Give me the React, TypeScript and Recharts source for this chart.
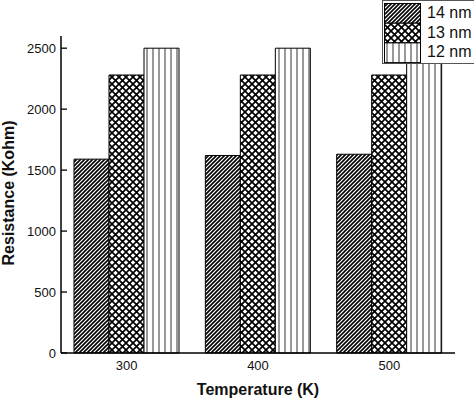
import React from "react";
import { BarChart, Bar, XAxis, YAxis, Legend, Label } from "recharts";

const FONT = "'Liberation Sans', Arial, sans-serif";

const temperatures = ["300", "400", "500"];
const resistance14nm = [1590, 1620, 1630];
const resistance13nm = [2280, 2280, 2280];
const resistance12nm = [2500, 2500, 2500];
const yTicks = [0, 500, 1000, 1500, 2000, 2500];

const SERIES = [
  { key: "r14", name: "14 nm", fill: "url(#hatch14)" },
  { key: "r13", name: "13 nm", fill: "url(#cross13)" },
  { key: "r12", name: "12 nm", fill: "url(#vert12)" },
];

const data = temperatures.map((t, i) => ({
  temp: t,
  r14: resistance14nm[i],
  r13: resistance13nm[i],
  r12: resistance12nm[i],
}));

const YTick = (props: any) => {
  const { x, y, payload } = props;
  return (
    <g>
      <line x1={x + 5} x2={x + 11} y1={y} y2={y} stroke="#000" strokeWidth={1.3} />
      <text x={x} y={y} dy="0.36em" textAnchor="end" fontSize={13} fill="#111" fontFamily={FONT}>
        {payload.value}
      </text>
    </g>
  );
};

const LegendBox = () => (
  <div
    style={{
      position: "relative",
      width: 100,
      height: 64,
      boxSizing: "border-box",
      border: "1px solid #555",
      background: "#fff",
      fontFamily: FONT,
    }}
  >
    <svg width={38} height={62} style={{ position: "absolute", left: 1, top: 2 }}>
      {SERIES.map((s, i) => (
        <rect key={s.key} x={0.5} y={0.5 + i * 19.7} width={36} height={19.7} fill={s.fill} stroke="#000" strokeWidth={1} />
      ))}
    </svg>
    {SERIES.map((s, i) => (
      <span
        key={s.key}
        style={{
          position: "absolute",
          left: 44,
          top: 2 + i * 19.7,
          height: 20,
          lineHeight: "20px",
          fontSize: 16,
          color: "#111",
          whiteSpace: "nowrap",
        }}
      >
        {s.name}
      </span>
    ))}
  </div>
);

export default function App() {
  return (
    <div
      style={{
        position: "absolute",
        left: 0,
        top: 0,
        width: 474,
        height: 399,
        overflow: "hidden",
        background: "#fff",
      }}
    >
      <BarChart
        width={474}
        height={399}
        data={data}
        margin={{ top: 36, right: 19, bottom: 0, left: 0 }}
        barCategoryGap={13}
        barGap={0}
      >
        <defs>
          <pattern id="hatch14" patternUnits="userSpaceOnUse" width={4} height={4}>
            <rect width={4} height={4} fill="#fff" />
            <path d="M0,4 L4,0 M-1,1 L1,-1 M3,5 L5,3" stroke="#000" strokeWidth={1.6} />
          </pattern>
          <pattern id="cross13" patternUnits="userSpaceOnUse" width={7} height={7}>
            <rect width={7} height={7} fill="#fff" />
            <path d="M0,0 L7,7 M7,0 L0,7" stroke="#000" strokeWidth={1.7} />
          </pattern>
          <pattern id="vert12" patternUnits="userSpaceOnUse" width={6} height={6}>
            <rect width={6} height={6} fill="#fff" />
            <line x1={3} x2={3} y1={0} y2={6} stroke="#333" strokeWidth={1} />
          </pattern>
        </defs>
        <XAxis
          dataKey="temp"
          axisLine={{ stroke: "#000", strokeWidth: 1.5 }}
          tickLine={false}
          tickSize={0}
          tickMargin={8}
          height={46}
          tick={{ fontSize: 13, fill: "#111", fontFamily: FONT }}
        >
          <Label
            content={() => (
              <text x={258} y={395} textAnchor="middle" fontSize={16} fontWeight="bold" fill="#111" fontFamily={FONT}>
                Temperature (K)
              </text>
            )}
          />
        </XAxis>
        <YAxis
          width={61}
          domain={[0, 2600]}
          ticks={yTicks}
          interval={0}
          axisLine={{ stroke: "#000", strokeWidth: 1.5 }}
          tickLine={false}
          tickSize={0}
          tickMargin={5}
          tick={<YTick />}
        >
          <Label
            content={() => (
              <text
                x={14}
                y={193}
                textAnchor="middle"
                fontSize={16}
                fontWeight="bold"
                fill="#111"
                fontFamily={FONT}
                transform="rotate(-90, 14, 193)"
              >
                Resistance (Kohm)
              </text>
            )}
          />
        </YAxis>
        {SERIES.map((s) => (
          <Bar
            key={s.key}
            dataKey={s.key}
            name={s.name}
            fill={s.fill}
            stroke="#000"
            strokeWidth={1}
            isAnimationActive={false}
          />
        ))}
        <Legend
          layout="horizontal"
          verticalAlign="middle"
          align="center"
          content={() => <LegendBox />}
          wrapperStyle={{ position: "absolute", left: 382, top: 0, width: 100, height: 64 }}
        />
      </BarChart>
    </div>
  );
}
